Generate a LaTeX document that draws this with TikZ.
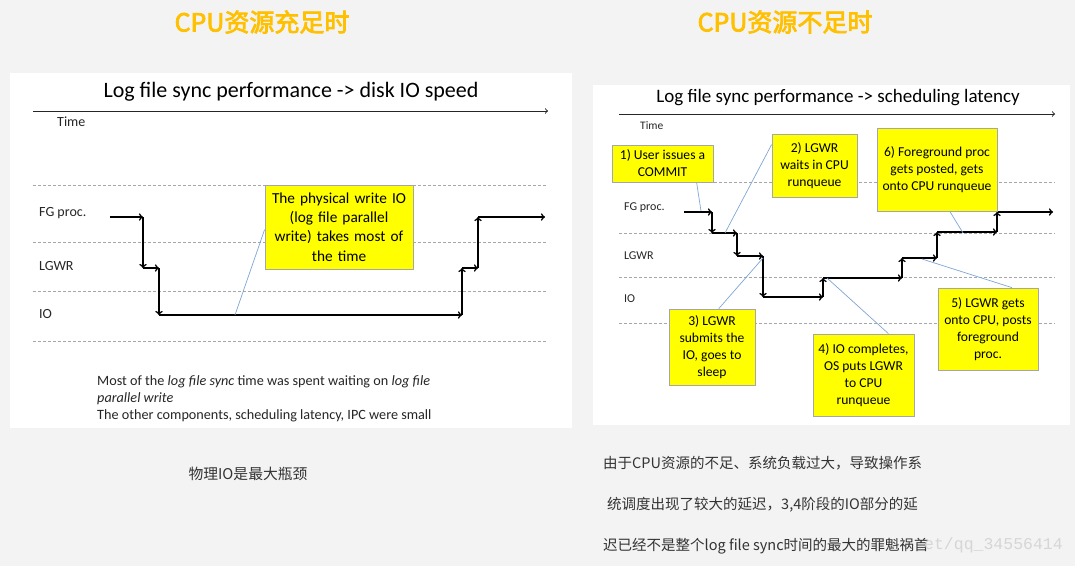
\documentclass[tikz,border=0pt]{standalone}
\usepackage{fontspec}
\setmainfont{Carlito}
\newfontfamily\cjk{Noto Sans CJK SC}
\newfontfamily\cjkbold[FakeBold=3]{Noto Sans CJK SC}
\newfontfamily\wmfont{Liberation Mono}
\definecolor{titleorange}{HTML}{FFC000}
\definecolor{noteyellow}{HTML}{FFFF00}
\definecolor{calloutblue}{HTML}{7EA6D6}
\definecolor{pagebg}{HTML}{F3F3F3}

\begin{document}
\begin{tikzpicture}[x=1pt,y=-1pt]
            \tikzstyle{title} = [text=titleorange, font=\cjkbold\fontsize{25}{30}\selectfont]
            \tikzstyle{heading} = [inner sep=0pt]
            \tikzstyle{timeaxis} = [line width=1pt, ->, black!85]
            \tikzstyle{lane} = [gray!70, dashed, dash pattern=on 3pt off 2pt, line width=.5pt]
            \tikzstyle{lanelabel} = [anchor=west, inner sep=0pt, black!85]
            \tikzstyle{stepline} = [line width=1.6pt, ->, black]
            \tikzstyle{note} = [fill=noteyellow, draw=gray!70, line width=.8pt, align=center, inner sep=0pt]
            \tikzstyle{callout} = [calloutblue, line width=.7pt]
            \tikzstyle{remark} = [font=\cjk\fontsize{14.5}{18}\selectfont, text=black!80, anchor=west, inner sep=0pt]

            \useasboundingbox (0,0) rectangle (1075,566);
            \fill[pagebg] (0,0) rectangle (1075,566);
            \fill[white] (10,73) rectangle (572,428);
            \fill[white] (593,85) rectangle (1070,425);

            \node [title] (ltitle) at (262,22) {CPU资源充足时};
            \node [title] (rtitle) at (785,22) {CPU资源不足时};

            % left slide
            \node [heading, font=\fontsize{22}{26}\selectfont] (lhead) at (291,92) {Log file sync performance -> disk IO speed};
            \coordinate (lt0) at (33,111);
            \coordinate (lt1) at (548,111);
            \draw [timeaxis] (lt0) -- (lt1);
            \node [lanelabel, font=\fontsize{14}{16}\selectfont] (ltime) at (57,122) {Time};
            \foreach \y in {185,242,291,341}
                \draw [lane] (33,\y) -- (546,\y);
            \node [lanelabel, font=\fontsize{14}{16}\selectfont] (lfg) at (39,213) {FG proc.};
            \node [lanelabel, font=\fontsize{14}{16}\selectfont] (llgwr) at (39,266) {LGWR};
            \node [lanelabel, font=\fontsize{14}{16}\selectfont] (lio) at (39,314) {IO};

            \coordinate (l0) at (110,217);
            \coordinate (l1) at (143,217);
            \coordinate (l2) at (143,268);
            \coordinate (l3) at (159,268);
            \coordinate (l4) at (159,315);
            \coordinate (l5) at (462,315);
            \coordinate (l6) at (462,268);
            \coordinate (l7) at (478,268);
            \coordinate (l8) at (478,217);
            \coordinate (l9) at (545,217);
            \foreach \i [evaluate=\i as \j using int(\i+1)] in {0,...,8}
                \draw [stepline] (l\i) -- (l\j);

            \node [note, minimum width=148pt, minimum height=84pt, text width=146pt,
                font=\fontsize{15.3}{19.4}\selectfont] (wbox) at (339,227)
                {The physical write IO\\(log file parallel\\write) takes most of\\the time};
            \coordinate (wpt) at (235,315);
            \draw [callout] (wpt) -- (wbox.182);

            \node [lanelabel, align=left, font=\fontsize{14.2}{16.8}\selectfont] (lnote) at (97,399)
                {Most of the \textit{log file sync} time was spent waiting on \textit{log file}\\
                \textit{parallel write}\\
                The other components, scheduling latency, IPC were small};

            \node [remark, font=\cjk\fontsize{14.8}{18}\selectfont, anchor=center] (lremark) at (248,474) {物理IO是最大瓶颈};

            % right slide
            \node [heading, font=\fontsize{19}{22}\selectfont] (rhead) at (838,98) {Log file sync performance -> scheduling latency};
            \coordinate (rt0) at (619,114);
            \coordinate (rt1) at (1055,114);
            \draw [timeaxis] (rt0) -- (rt1);
            \node [lanelabel, font=\fontsize{11.5}{14}\selectfont] (rtime) at (640,126) {Time};
            \foreach \y in {182,233,277,323}
                \draw [lane] (619,\y) -- (1055,\y);
            \node [lanelabel, font=\fontsize{12}{14}\selectfont] (rfg) at (624,208) {FG proc.};
            \node [lanelabel, font=\fontsize{12}{14}\selectfont] (rlgwr) at (624,256) {LGWR};
            \node [lanelabel, font=\fontsize{12}{14}\selectfont] (rio) at (624,299) {IO};

            \coordinate (r0) at (684,212);
            \coordinate (r1) at (712,212);
            \coordinate (r2) at (712,233);
            \coordinate (r3) at (737,233);
            \coordinate (r4) at (737,256);
            \coordinate (r5) at (763,256);
            \coordinate (r6) at (763,297);
            \coordinate (r7) at (823,297);
            \coordinate (r8) at (823,278);
            \coordinate (r9) at (902,278);
            \coordinate (r10) at (902,258);
            \coordinate (r11) at (937,258);
            \coordinate (r12) at (937,232);
            \coordinate (r13) at (997,232);
            \coordinate (r14) at (997,212);
            \coordinate (r15) at (1053,212);
            \foreach \i [evaluate=\i as \j using int(\i+1)] in {0,...,14}
                \draw [stepline] (r\i) -- (r\j);

            \tikzstyle{step note} = [note, font=\fontsize{13.6}{17}\selectfont]
            \node [step note, minimum width=101pt, minimum height=37pt] (box1) at (662.5,163.5)
                {1) User issues a\\COMMIT};
            \node [step note, minimum width=85pt, minimum height=63pt] (box2) at (814.5,165.5)
                {2) LGWR\\waits in CPU\\runqueue};
            \node [step note, minimum width=120pt, minimum height=83pt] (box6) at (937,169.5)
                {6) Foreground proc\\gets posted, gets\\onto CPU runqueue};
            \node [step note, minimum width=86pt, minimum height=76pt] (box3) at (712,347)
                {3) LGWR\\submits the\\IO, goes to\\sleep};
            \node [step note, minimum width=101pt, minimum height=82pt] (box4) at (863.5,375)
                {4) IO completes,\\OS puts LGWR\\to CPU\\runqueue};
            \node [step note, minimum width=100pt, minimum height=82pt] (box5) at (988,329)
                {5) LGWR gets\\onto CPU, posts\\foreground\\proc.};

            \coordinate (k1) at (701,211);
            \coordinate (k2) at (725,233);
            \coordinate (k3) at (763,258);
            \coordinate (k4) at (827,278);
            \coordinate (k5) at (922,259);
            \coordinate (k6) at (963,233);
            \draw [callout] (box1.-29) -- (k1);
            \draw [callout] (box2.154) -- (k2);
            \draw [callout] (box3.80) -- (k3);
            \draw [callout] (box4.59) -- (k4);
            \draw [callout] (box5.60) -- (k5);
            \draw [callout] (box6.-73) -- (k6);

            \node [remark] (rremark1) at (603,463) {由于CPU资源的不足、系统负载过大，导致操作系};
            \node [remark] (rremark2) at (607,505) {统调度出现了较大的延迟，3,4阶段的IO部分的延};
            \node [remark] (rremark3) at (603,546) {迟已经不是整个log file sync时间的最大的罪魁祸首};
            \node [font=\wmfont\fontsize{16.5}{18}\selectfont, text=gray!32, anchor=east, inner sep=0pt] (mark) at (1063,545) {et/qq\_34556414};
        \end{tikzpicture}
\end{document}
